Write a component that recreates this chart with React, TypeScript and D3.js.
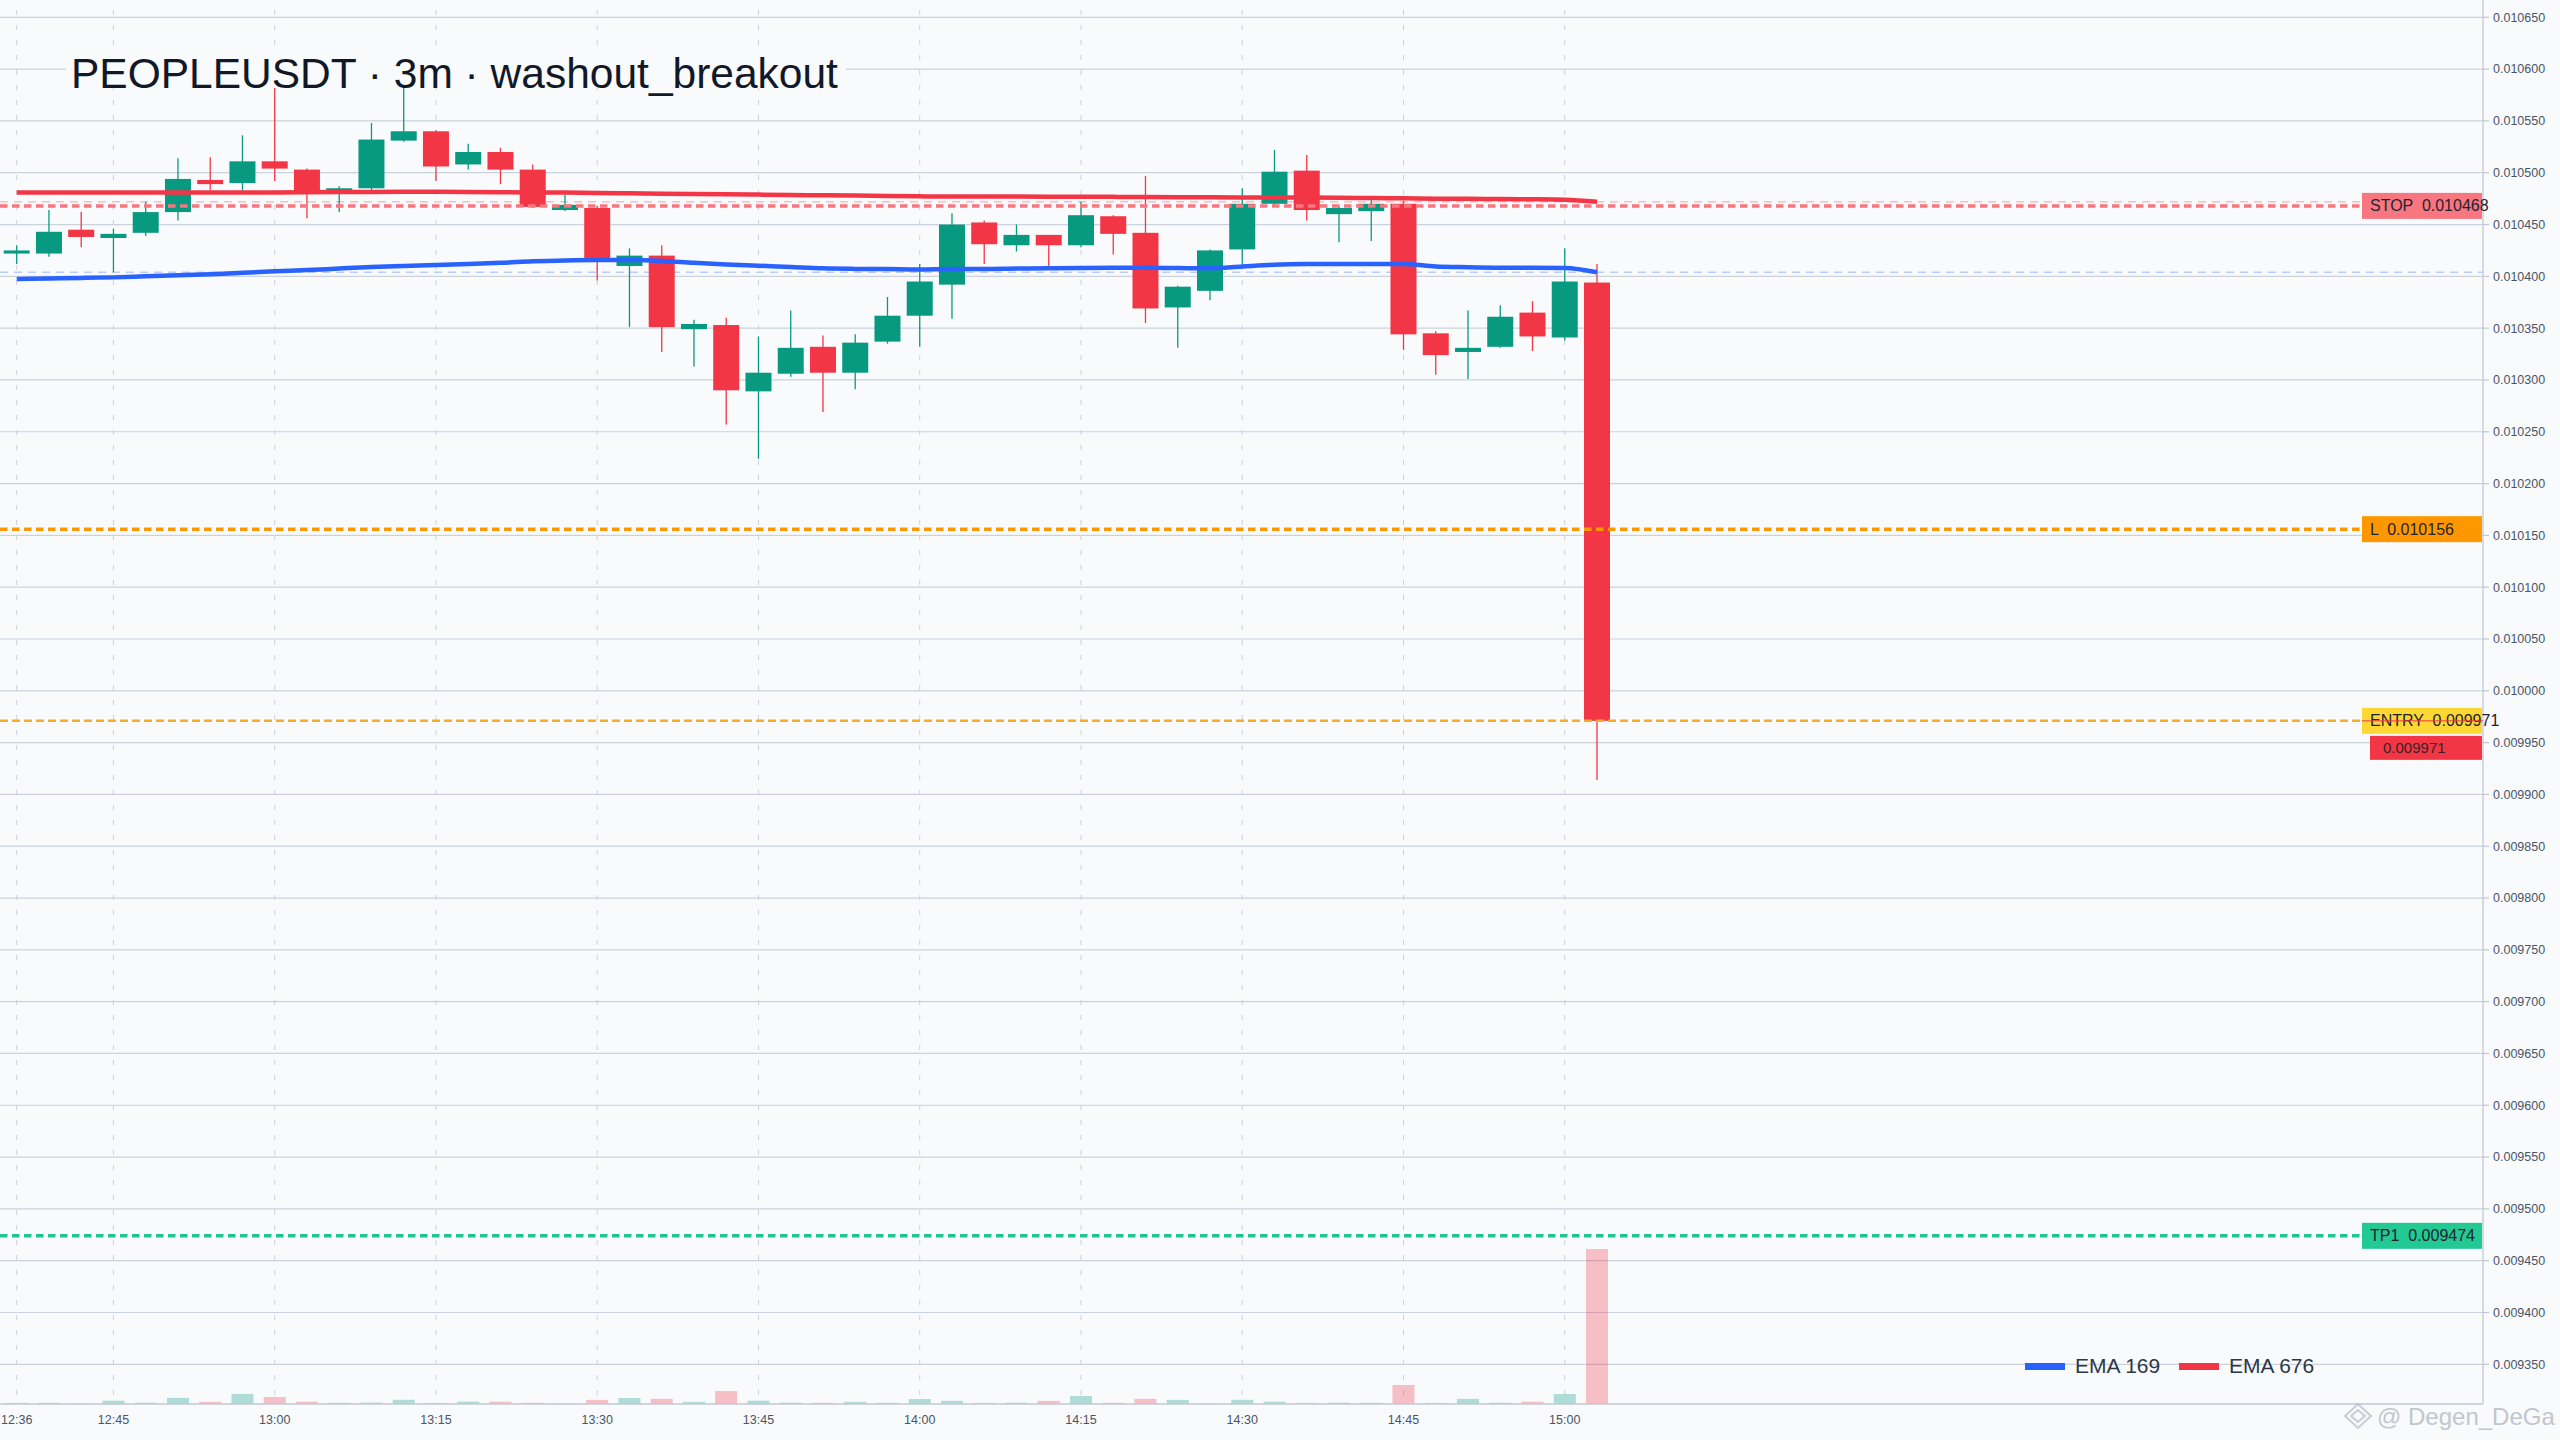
import * as d3 from "d3";

const times = [
  "12:36", "12:39", "12:42", "12:45", "12:48", "12:51", "12:54", "12:57",
  "13:00", "13:03", "13:06", "13:09", "13:12", "13:15", "13:18", "13:21", "13:24", "13:27",
  "13:30", "13:33", "13:36", "13:39", "13:42", "13:45", "13:48", "13:51", "13:54", "13:57",
  "14:00", "14:03", "14:06", "14:09", "14:12", "14:15", "14:18", "14:21", "14:24", "14:27",
  "14:30", "14:33", "14:36", "14:39", "14:42", "14:45", "14:48", "14:51", "14:54", "14:57",
  "15:00", "15:03",
];

const opens = [
  0.010422, 0.010422, 0.010445, 0.010437, 0.010442, 0.010462, 0.010493, 0.01049,
  0.010511, 0.010503, 0.010483, 0.010485, 0.010531, 0.01054, 0.010508, 0.01052, 0.010503, 0.010464,
  0.010466, 0.01041, 0.01042, 0.010349, 0.010353, 0.010289, 0.010306, 0.010332, 0.010307, 0.010337,
  0.010362, 0.010392, 0.010452, 0.01043, 0.01044, 0.01043, 0.010458, 0.010442, 0.01037, 0.010386,
  0.010426, 0.01047, 0.010502, 0.01046, 0.010463, 0.01047, 0.010345, 0.010327, 0.010332, 0.010365,
  0.010341, 0.010394,
];
const highs = [
  0.01043, 0.010464, 0.010462, 0.010446, 0.010472, 0.010514, 0.010515, 0.010536,
  0.01059, 0.010504, 0.010487, 0.010548, 0.010588, 0.010541, 0.010528, 0.010524, 0.010508, 0.010479,
  0.010468, 0.010427, 0.01043, 0.010358, 0.01036, 0.010342, 0.010367, 0.010343, 0.010344, 0.01038,
  0.010412, 0.010461, 0.010454, 0.01045, 0.01044, 0.010472, 0.010459, 0.010497, 0.010391, 0.010426,
  0.010485, 0.010522, 0.010517, 0.010468, 0.010474, 0.010473, 0.010347, 0.010367, 0.010372, 0.010376,
  0.010427, 0.010412,
];
const lows = [
  0.010412, 0.010419, 0.010428, 0.010404, 0.010439, 0.010454, 0.010483, 0.010483,
  0.010492, 0.010456, 0.010462, 0.010483, 0.01053, 0.010492, 0.010503, 0.010489, 0.010466, 0.010463,
  0.010396, 0.010351, 0.010327, 0.010313, 0.010257, 0.010224, 0.010303, 0.010269, 0.010291, 0.010335,
  0.010332, 0.010359, 0.010412, 0.010424, 0.01041, 0.010428, 0.010421, 0.010355, 0.010331, 0.010377,
  0.010411, 0.010469, 0.010454, 0.010433, 0.010434, 0.010329, 0.010305, 0.010301, 0.010331, 0.010328,
  0.010338, 0.009914,
];
const closes = [
  0.010425, 0.010443, 0.010438, 0.010441, 0.010462, 0.010494, 0.010489, 0.010511,
  0.010504, 0.01048, 0.010485, 0.010532, 0.01054, 0.010506, 0.01052, 0.010503, 0.010467, 0.010469,
  0.010417, 0.01042, 0.010351, 0.010354, 0.01029, 0.010307, 0.010331, 0.010307, 0.010336, 0.010362,
  0.010395, 0.01045, 0.010431, 0.01044, 0.01043, 0.010459, 0.010441, 0.010369, 0.01039, 0.010425,
  0.01047, 0.010501, 0.010464, 0.010466, 0.01047, 0.010344, 0.010324, 0.010331, 0.010361, 0.010342,
  0.010395, 0.009971,
];
// volume in thousands of contracts
const volumes = [
  110, 120, 40, 330, 130, 610, 220, 1010,
  700, 230, 120, 140, 420, 110, 240, 230, 120, 50,
  410, 600, 520, 220, 1290, 330, 130, 120, 220, 120,
  500, 310, 110, 130, 310, 800, 120, 520, 410, 40,
  420, 230, 110, 130, 120, 1900, 110, 510, 130, 230,
  1000, 15500,
];
const ema169 = [
  0.0103974, 0.010398, 0.0103985, 0.010399, 0.0104, 0.010401, 0.010402, 0.0104035,
  0.0104048, 0.010406, 0.0104075, 0.010409, 0.01041, 0.010411, 0.010412, 0.010413, 0.0104145, 0.0104154,
  0.0104158, 0.0104157, 0.0104148, 0.010413, 0.0104115, 0.0104103, 0.010409, 0.0104077, 0.0104072, 0.010407,
  0.0104067, 0.010407, 0.010407, 0.0104075, 0.0104078, 0.010408, 0.0104082, 0.0104083, 0.010408, 0.0104077,
  0.0104095, 0.0104112, 0.0104118, 0.0104119, 0.010412, 0.0104119, 0.0104096, 0.0104088, 0.0104083, 0.0104082,
  0.010408, 0.0104039,
];
const ema676 = [
  0.010481, 0.010481, 0.010481, 0.010481, 0.010481, 0.010481, 0.010481, 0.010481,
  0.010481, 0.0104812, 0.0104814, 0.0104815, 0.0104816, 0.0104817, 0.0104815, 0.0104812, 0.010481, 0.0104808,
  0.0104805, 0.0104802, 0.0104798, 0.0104795, 0.0104792, 0.0104789, 0.0104785, 0.0104782, 0.0104779, 0.0104775,
  0.0104772, 0.0104771, 0.010477, 0.010477, 0.0104769, 0.0104769, 0.0104767, 0.0104766, 0.0104764, 0.0104763,
  0.0104762, 0.0104761, 0.010476, 0.0104758, 0.0104756, 0.0104753, 0.010475, 0.0104748, 0.0104746, 0.0104744,
  0.010474, 0.010472,
];

const timeTicks = ["12:36", "12:45", "13:00", "13:15", "13:30", "13:45", "14:00", "14:15", "14:30", "14:45", "15:00"];

const levelNames = ["STOP", "L", "ENTRY", "TP1"];
const levelValues = [0.010468, 0.010156, 0.009971, 0.009474];
const levelLine = ["#f7767f", "#ff9800", "#f5ad2a", "#1fc58e"];
const levelBox = ["#f7767f", "#ff9800", "#fdd835", "#22c993"];

const legendNames = ["EMA 169", "EMA 676"];

const W = 2560;
const H = 1440;
const axisX = 2483;
const paneBottom = 1404;
const bg = "#f8fafc";
const grid = "#cbd2dd";
const up = "#089981";
const down = "#f23645";
const blue = "#2962ff";
const font = "'Liberation Sans', Arial, sans-serif";

export default function App() {
  const n = times.length;
  const x = d3.scaleLinear().domain([0, n - 1]).range([16.7, 1597]);
  const y = d3.scaleLinear().domain([0.00935, 0.01065]).range([1364.3, 17.3]);
  const v = d3.scaleLinear().domain([0, d3.max(volumes) as number]).range([paneBottom, 1249]);
  const priceTicks = d3.range(0, 27).map((k) => 0.00935 + k * 0.00005);
  const fmt = d3.format(".6f");

  const line = (arr: number[]) =>
    d3.line<number>().x((_, i) => x(i)).y((d) => y(d)).curve(d3.curveMonotoneX)(arr) || "";

  const boxX = 2362;
  const boxW = 120;
  const boxH = 26;
  const entryY = y(levelValues[2]);
  const lastClose = closes[n - 1];

  return (
    <svg
      width={W}
      height={H}
      style={{ position: "absolute", left: 0, top: 0, background: bg, fontFamily: font }}
    >
      <rect width={W} height={H} fill={bg} />

      {/* grid */}
      {priceTicks.map((p) => (
        <line key={p} x1={0} x2={axisX} y1={y(p)} y2={y(p)} stroke={grid} strokeWidth={1.2} />
      ))}
      {timeTicks.map((t) => (
        <line
          key={t}
          x1={x(times.indexOf(t))}
          x2={x(times.indexOf(t))}
          y1={0}
          y2={paneBottom}
          stroke={grid}
          strokeWidth={1}
          strokeDasharray="5 10"
          strokeDashoffset={5}
        />
      ))}

      {/* volume */}
      {volumes.map((vol, i) => (
        <rect
          key={i}
          x={x(i) - 11}
          width={22}
          y={v(vol)}
          height={paneBottom - v(vol)}
          fill={closes[i] >= opens[i] ? "rgba(8,153,129,0.3)" : "rgba(242,54,69,0.3)"}
        />
      ))}

      {/* faint last value lines of the EMAs */}
      <line x1={0} x2={axisX} y1={y(ema676[n - 1])} y2={y(ema676[n - 1])} stroke="rgba(242,54,69,0.3)" strokeWidth={1.5} strokeDasharray="8 6" />
      <line x1={0} x2={axisX} y1={y(ema169[n - 1])} y2={y(ema169[n - 1])} stroke="rgba(41,98,255,0.3)" strokeWidth={1.5} strokeDasharray="8 6" />

      {/* candles */}
      {times.map((t, i) => {
        const o = opens[i];
        const c = closes[i];
        const col = c >= o ? up : down;
        const top = y(Math.max(o, c));
        const bot = y(Math.min(o, c));
        return (
          <g key={t}>
            <line x1={x(i)} x2={x(i)} y1={y(highs[i])} y2={y(lows[i])} stroke={col} strokeWidth={1.3} />
            <rect x={x(i) - 13} width={26} y={top} height={Math.max(2, bot - top)} fill={col} />
          </g>
        );
      })}

      {/* EMAs */}
      <path d={line(ema169)} fill="none" stroke={blue} strokeWidth={4.5} />
      <path d={line(ema676)} fill="none" stroke={down} strokeWidth={4.5} />

      {/* trade levels */}
      {levelValues.map((val, k) => (
        <line
          key={levelNames[k]}
          x1={0}
          x2={boxX}
          y1={y(val)}
          y2={y(val)}
          stroke={levelLine[k]}
          strokeWidth={levelNames[k] === "ENTRY" ? 2.5 : 3.5}
          strokeDasharray={levelNames[k] === "ENTRY" ? "8 4" : "7.5 4.5"}
        />
      ))}

      {/* title */}
      <rect x={66} y={46} width={780} height={42} fill={bg} />
      <text x={71} y={88} fontSize={42.5} fill="#111827">
        PEOPLEUSDT · 3m · washout_breakout
      </text>

      {/* price axis */}
      <line x1={axisX} x2={axisX} y1={0} y2={paneBottom} stroke="#c0c8d4" strokeWidth={1.3} />
      {priceTicks.map((p) => (
        <g key={p}>
          <line x1={axisX} x2={axisX + 6} y1={y(p)} y2={y(p)} stroke="#c0c8d4" strokeWidth={1.2} />
          <text x={2493} y={y(p)} dy="0.35em" fontSize={12.5} fill="#4a5568">
            {fmt(p)}
          </text>
        </g>
      ))}

      {/* time axis */}
      <line x1={0} x2={axisX} y1={paneBottom} y2={paneBottom} stroke="#c0c8d4" strokeWidth={1.3} />
      {timeTicks.map((t) => (
        <text key={t} x={x(times.indexOf(t))} y={1423.5} textAnchor="middle" fontSize={12.5} fill="#4a5568">
          {t}
        </text>
      ))}

      {/* level labels */}
      {levelValues.map((val, k) => (
        <g key={levelNames[k]}>
          <rect x={boxX} y={y(val) - boxH / 2} width={boxW} height={boxH} fill={levelBox[k]} />
          <text x={2370} y={y(val)} dy="0.35em" fontSize={16} fill="#1f2330" style={{ whiteSpace: "pre" }}>
            {`${levelNames[k]}  ${fmt(val)}`}
          </text>
        </g>
      ))}
      <line x1={boxX} x2={axisX} y1={y(lastClose)} y2={y(lastClose)} stroke={down} strokeWidth={1} />
      <rect x={2370} y={entryY + boxH / 2 + 2} width={112} height={24} fill={down} />
      <text x={2383} y={entryY + boxH / 2 + 14} dy="0.35em" fontSize={15} fill="#3a2326">
        {fmt(lastClose)}
      </text>

      {/* legend */}
      {legendNames.map((name, k) => (
        <g key={name} transform={`translate(${2025 + k * 154}, 0)`}>
          <rect x={0} y={1363} width={40} height={7} fill={k === 0 ? blue : down} />
          <text x={50} y={1373} fontSize={21} fill="#2d3748">
            {name}
          </text>
        </g>
      ))}

      {/* watermark */}
      <g opacity={0.75} fill="none" stroke="#b9bec7" strokeWidth={2}>
        <path d="M2358,1404 L2371,1416 L2358,1428 L2345,1416 Z" />
        <path d="M2358,1410 L2365,1416 L2358,1422 L2351,1416 Z" />
      </g>
      <text x={2377} y={1425} fontSize={24} fill="#b9bec7" opacity={0.85}>
        @ Degen_DeGa
      </text>
    </svg>
  );
}
